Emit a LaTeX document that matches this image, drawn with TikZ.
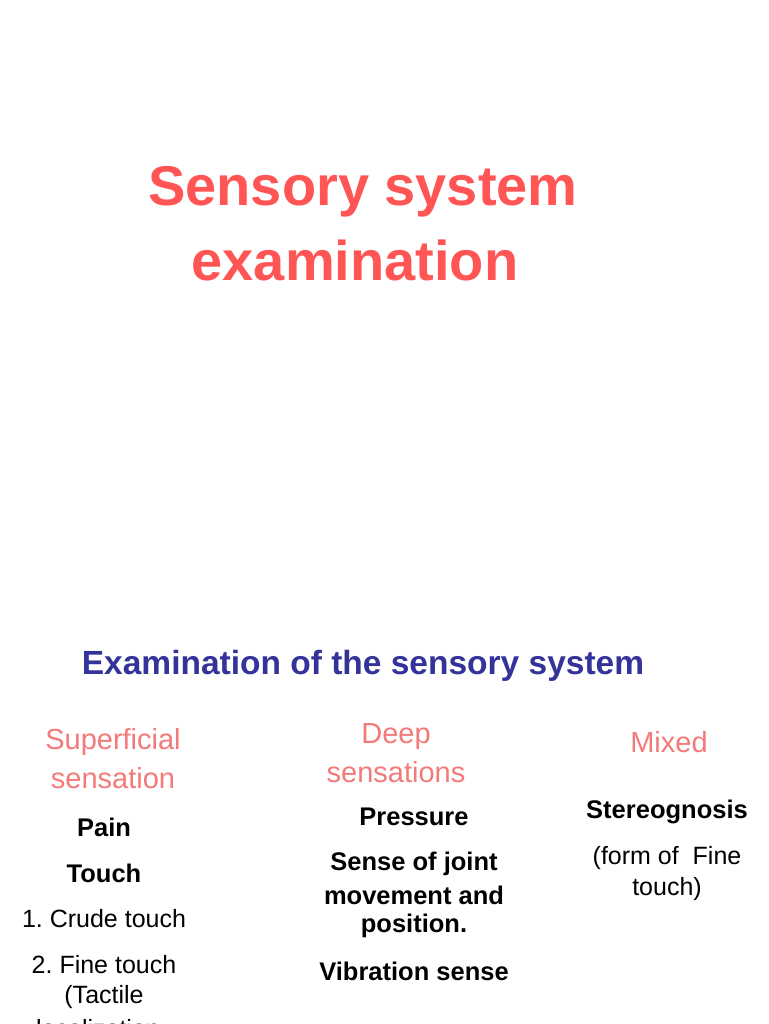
\documentclass[tikz,border=0pt]{standalone}
\usepackage{fontspec}
\setmainfont{Liberation Sans}
\definecolor{ttl}{HTML}{FF5555}
\definecolor{blu}{HTML}{333399}
\definecolor{sal}{HTML}{F47A7A}
\frenchspacing
\begin{document}
\begin{tikzpicture}[x=1pt,y=-1pt,
  t/.style={font=\bfseries\fontsize{56}{64}\selectfont, text=ttl, inner sep=0pt},
  h/.style={font=\bfseries\fontsize{33.5}{38}\selectfont, text=blu, inner sep=0pt},
  c/.style={font=\fontsize{29}{34}\selectfont, text=sal, inner sep=0pt},
  b/.style={font=\bfseries\fontsize{25.5}{30}\selectfont, inner sep=0pt},
  n/.style={font=\fontsize{25}{30}\selectfont, inner sep=0pt}]
\path[use as bounding box,fill=white] (0,0) rectangle (768,1024);
\clip (0,0) rectangle (768,1024);
\node[t] (t1) at (363,192) {Sensory system};
\node[t] (t2) at (355,260) {examination};
\node[h] (h) at (363,666) {Examination of the sensory system};
\node[c] (c1) at (113,742) {Superficial};
\node[c] (c2) at (113,778) {sensation};
\node[c] (d1) at (396,737) {Deep};
\node[c] (d2) at (396,772) {sensations};
\node[c] (m1) at (669,742) {Mixed};
\node[b] (p1) at (104,827) {Pain};
\node[b] (p2) at (104,873) {Touch};
\node[n] (p3) at (104,919) {1. Crude touch};
\node[n] (p4) at (104,965) {2. Fine touch};
\node[n] (p5) at (104,997) {(Tactile};
\node[n] (p6) at (98,1029) {localization};
\node[b] (q1) at (414,817) {Pressure};
\node[b] (q2) at (414,864) {Sense of joint};
\node[b] (q3) at (414,895) {movement and};
\node[b] (q4) at (414,926) {position.};
\node[b] (q5) at (414,971) {Vibration sense};
\node[b] (r1) at (667,812) {Stereognosis};
\node[n] (r2) at (667,858) {(form of\ \ Fine};
\node[n] (r3) at (667,889) {touch)};
\end{tikzpicture}
\end{document}
